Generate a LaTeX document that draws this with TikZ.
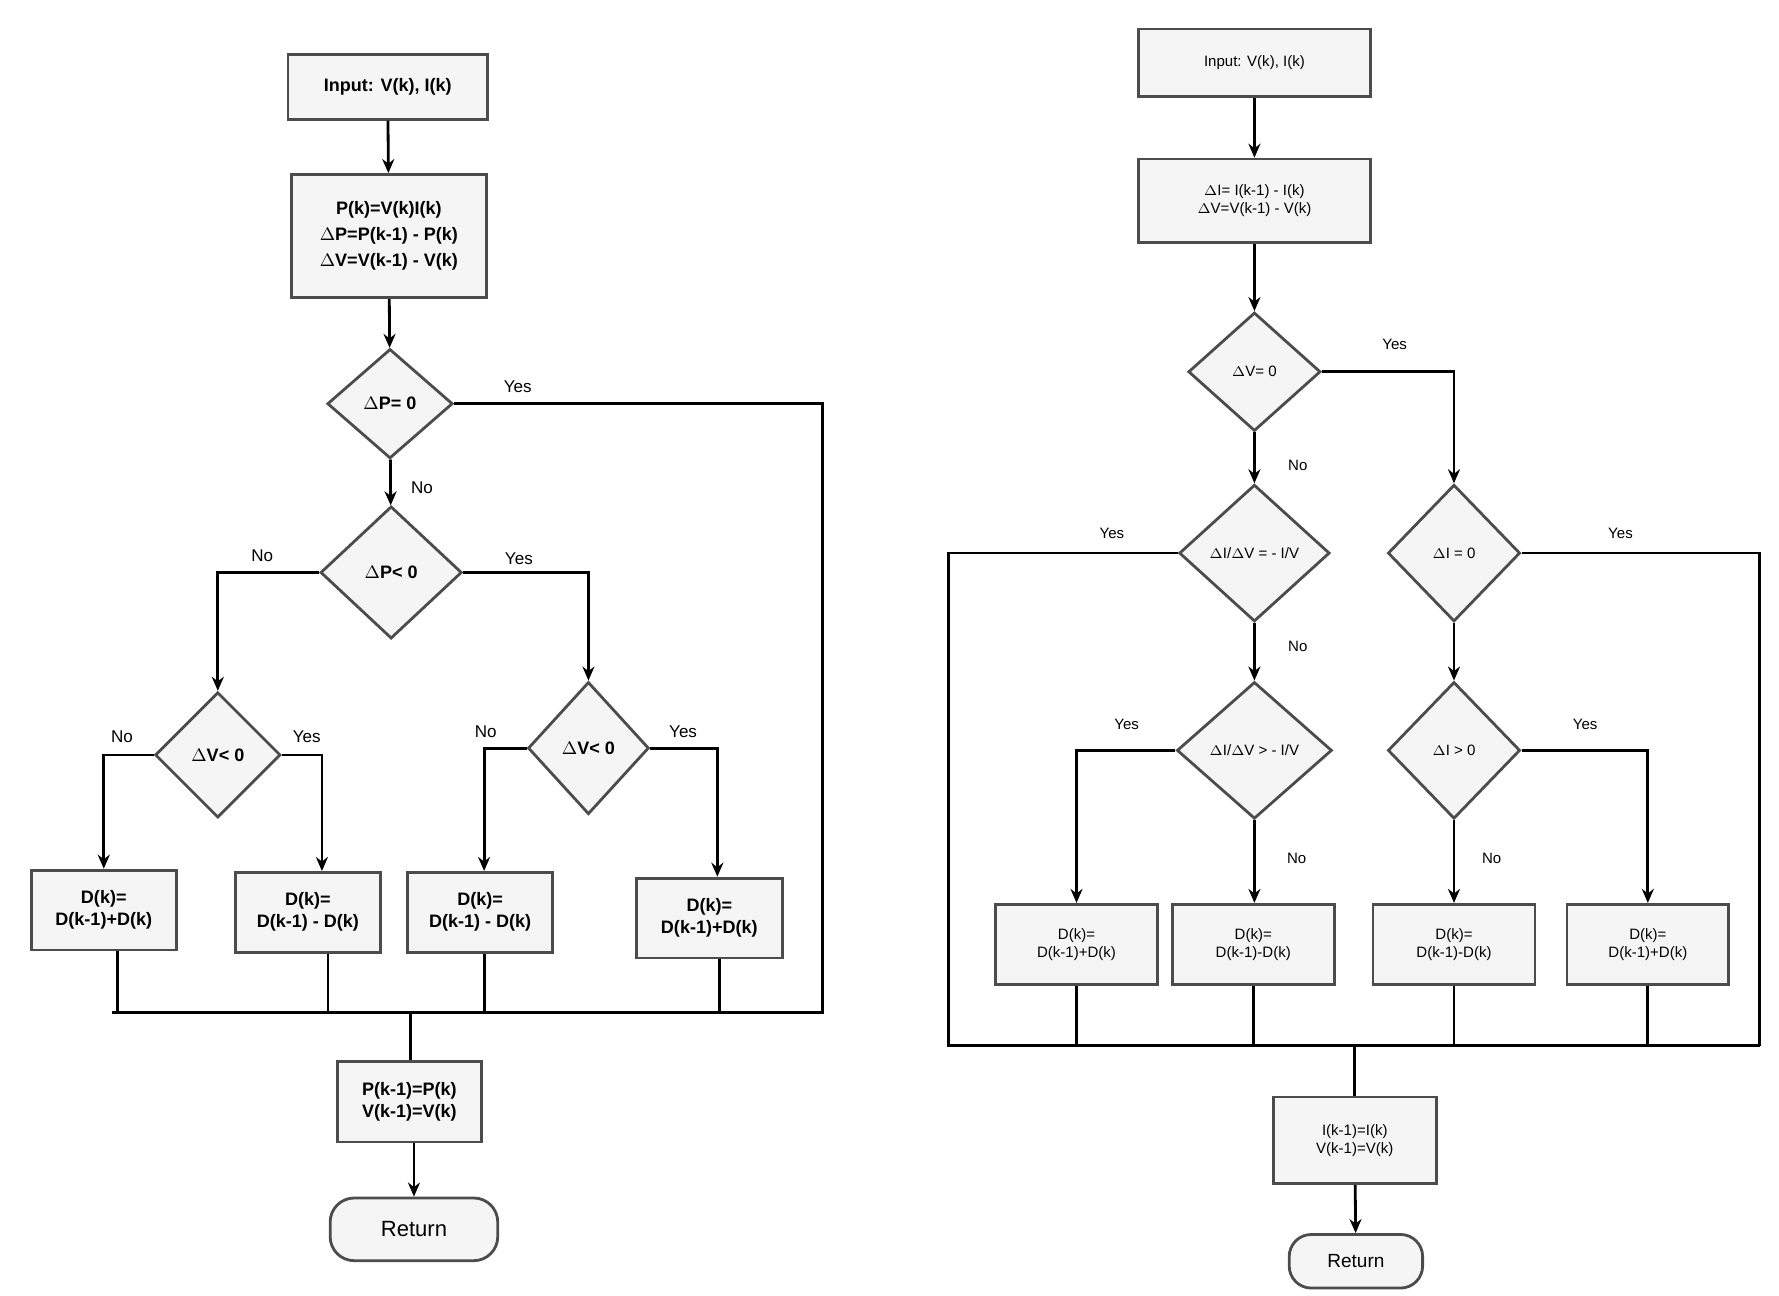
\documentclass[tikz,border=0pt]{standalone}
\usepackage{fontspec}
\setmainfont{Liberation Sans}
\usetikzlibrary{shapes.geometric,arrows.meta}
\tikzset{
  box/.style={draw=gray!60!black, line width=1.4pt, fill=gray!8, align=center, inner sep=0pt},
  dia/.style={diamond, draw=gray!60!black, line width=1.4pt, fill=gray!8, align=center, inner sep=0pt},
  flow/.style={line width=1.4pt, -{Stealth[length=7pt,width=6pt]}},
  wire/.style={line width=1.4pt},
  lab/.style={font=\fontsize{8.5}{10}\selectfont},
  rlab/.style={font=\fontsize{7.5}{9}\selectfont}
}
\begin{document}
\begin{tikzpicture}[x=0.02cm, y=-0.02cm]
    \useasboundingbox (0,0) rectangle (1560,1136);

    % Left chart
    \begin{scope}[font=\bfseries\fontsize{9}{11}\selectfont]
    \node[box, minimum width=3.5cm, minimum height=1.14cm] (inL) at (340,76) {Input: V(k), I(k)};
    \node[box, minimum width=3.42cm, minimum height=2.16cm] (pwr) at (341,207) {P(k)=V(k)I(k)\\[2pt] $\Delta$P=P(k-1) - P(k)\\[2pt] $\Delta$V=V(k-1) - V(k)};
    \node[dia, minimum width=2.2cm, minimum height=1.92cm] (dpz) at (342,354) {$\Delta$P= 0};
    \node[dia, minimum width=2.48cm, minimum height=2.32cm] (dpn) at (343,502) {$\Delta$P< 0};
    \node[dia, minimum width=2.2cm, minimum height=2.2cm] (dvl) at (191,662) {$\Delta$V< 0};
    \node[dia, minimum width=2.12cm, minimum height=2.32cm] (dvr) at (516,656) {$\Delta$V< 0};
    \node[box, minimum width=2.54cm, minimum height=1.4cm] (da) at (91,798) {D(k)=\\D(k-1)+D(k)};
    \node[box, minimum width=2.54cm, minimum height=1.4cm] (db) at (270,800) {D(k)=\\D(k-1) - D(k)};
    \node[box, minimum width=2.54cm, minimum height=1.4cm] (dc) at (421,800) {D(k)=\\D(k-1) - D(k)};
    \node[box, minimum width=2.56cm, minimum height=1.4cm] (dd) at (622,805) {D(k)=\\D(k-1)+D(k)};
    \node[box, minimum width=2.52cm, minimum height=1.42cm] (updL) at (359,966) {P(k-1)=P(k)\\V(k-1)=V(k)};
    \end{scope}
    \node[box, rounded corners=12pt, minimum width=2.94cm, minimum height=1.1cm, font=\fontsize{11}{13}\selectfont] (retL) at (363,1078) {Return};

    \coordinate (busL) at (98,888);
    \coordinate (busR) at (721,888);
    \coordinate (busM) at (360,888);

    \draw[flow] (inL) -- (pwr);
    \draw[flow] (pwr) -- (dpz);
    \draw[flow] (dpz) -- (dpn);
    \draw[flow] (dpn.west) -| (dvl.north);
    \draw[flow] (dpn.east) -| (dvr.north);
    \draw[flow] (dvl.west) -| (da.north);
    \draw[flow] (dvl.east) -| ([xshift=7]db.north);
    \draw[flow] (dvr.west) -| ([xshift=2]dc.north);
    \draw[flow] (dvr.east) -| ([xshift=4]dd.north);
    \draw[wire] (dpz.east) -| (busR) -- (busL);
    \draw[wire] ([xshift=7]da.south) -- ([xshift=7]da.south |- busL);
    \draw[wire] ([xshift=10]db.south) -- ([xshift=10]db.south |- busL);
    \draw[wire] ([xshift=2]dc.south) -- ([xshift=2]dc.south |- busL);
    \draw[wire] ([xshift=5]dd.south) -- ([xshift=5]dd.south |- busL);
    \draw[wire] (busM) -- (updL.north -| busM);
    \draw[flow] (updL.south -| retL) -- (retL);

    \node[lab] at (454,339) {Yes};
    \node[lab] at (370,428) {No};
    \node[lab] at (230,487) {No};
    \node[lab] at (455,490) {Yes};
    \node[lab] at (107,646) {No};
    \node[lab] at (269,646) {Yes};
    \node[lab] at (426,642) {No};
    \node[lab] at (599,642) {Yes};

    % Right chart
    \begin{scope}[font=\fontsize{7.5}{9}\selectfont]
    \node[box, minimum width=4.06cm, minimum height=1.18cm] (inR) at (1100,55) {Input: V(k), I(k)};
    \node[box, minimum width=4.06cm, minimum height=1.46cm] (dlt) at (1100,176) {$\Delta$I= I(k-1) - I(k)\\$\Delta$V=V(k-1) - V(k)};
    \node[dia, minimum width=2.32cm, minimum height=2.08cm] (dvz) at (1100,326) {$\Delta$V= 0};
    \node[dia, minimum width=2.64cm, minimum height=2.4cm] (inc) at (1100,485) {$\Delta$I/$\Delta$V = - I/V};
    \node[dia, minimum width=2.32cm, minimum height=2.4cm] (diz) at (1275,485) {$\Delta$I = 0};
    \node[dia, minimum width=2.72cm, minimum height=2.4cm] (ing) at (1100,658) {$\Delta$I/$\Delta$V > - I/V};
    \node[dia, minimum width=2.32cm, minimum height=2.4cm] (dip) at (1275,658) {$\Delta$I > 0};
    \node[box, minimum width=2.84cm, minimum height=1.4cm] (ra) at (944,828) {D(k)=\\D(k-1)+D(k)};
    \node[box, minimum width=2.84cm, minimum height=1.4cm] (rb) at (1099,828) {D(k)=\\D(k-1)-D(k)};
    \node[box, minimum width=2.84cm, minimum height=1.4cm] (rc) at (1275,828) {D(k)=\\D(k-1)-D(k)};
    \node[box, minimum width=2.84cm, minimum height=1.4cm] (rd) at (1445,828) {D(k)=\\D(k-1)+D(k)};
    \node[box, minimum width=2.86cm, minimum height=1.52cm] (updR) at (1188,1000) {I(k-1)=I(k)\\V(k-1)=V(k)};
    \end{scope}
    \node[box, rounded corners=11pt, minimum width=2.34cm, minimum height=0.94cm, font=\fontsize{9.5}{11}\selectfont] (retR) at (1189,1106) {Return};

    \coordinate (rbusL) at (832,917);
    \coordinate (rbusR) at (1543,917);
    \coordinate (rbusM) at (1188,917);

    \draw[flow] (inR) -- (dlt);
    \draw[flow] (dlt) -- (dvz);
    \draw[flow] (dvz) -- (inc);
    \draw[flow] (dvz.east) -| (diz.north);
    \draw[flow] (inc) -- (ing);
    \draw[flow] (diz) -- (dip);
    \draw[flow] (ing.west) -| (ra.north);
    \draw[flow] (ing.south) -- (rb.north -| ing.south);
    \draw[flow] (dip.south) -- (rc.north);
    \draw[flow] (dip.east) -| (rd.north);
    \draw[wire] (inc.west) -| (rbusL) -- (rbusR);
    \draw[wire] (diz.east) -| (rbusR);
    \foreach \b in {ra,rb,rc,rd}
        \draw[wire] (\b.south) -- (\b.south |- rbusL);
    \draw[wire] (rbusM) -- (updR.north);
    \draw[flow] (updR) -- (retR);

    \node[rlab] at (1223,302) {Yes};
    \node[rlab] at (1138,408) {No};
    \node[rlab] at (975,468) {Yes};
    \node[rlab] at (1421,468) {Yes};
    \node[rlab] at (1138,567) {No};
    \node[rlab] at (988,635) {Yes};
    \node[rlab] at (1390,635) {Yes};
    \node[rlab] at (1137,753) {No};
    \node[rlab] at (1308,753) {No};
\end{tikzpicture}
\end{document}
